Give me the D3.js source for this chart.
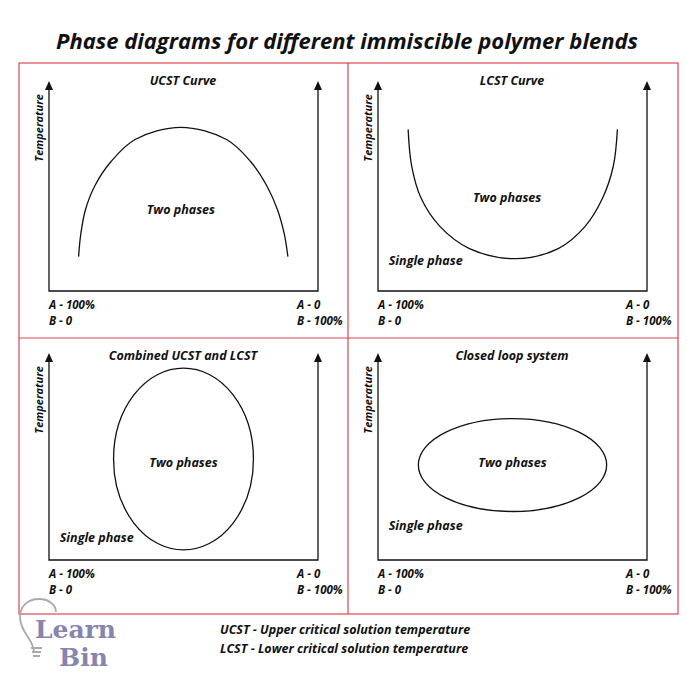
<!DOCTYPE html>
<html><head><meta charset="utf-8">
<script src="https://cdn.jsdelivr.net/npm/d3@7"></script>
<style>body{margin:0;background:#fff}text{font-family:"Open Sans",sans-serif;font-style:italic;font-weight:700;fill:#111}</style>
</head><body><svg id="c" width="700" height="677"></svg>
<script>
const titles = ["UCST Curve","LCST Curve","Combined UCST and LCST","Closed loop system"];
const ucstPoints = [[11,17],[11.8,28],[13.5,40],[17,52],[23,64],[32,75],[49,81],[66,75],[75,64],[81,52],[85,40],[87.5,28],[88.8,17]];
const lcstPoints = [[11.2,80],[12.5,62],[16,46],[23,32],[34,21],[51,16],[67,21],[77,32],[83.5,46],[87.5,62],[89,80]];
const ellipses = [null,null,{cx:50,cy:50,rx:26,ry:45},{cx:50,cy:47,rx:35,ry:23}];
const twoPhaseLabels = [[49,38],[48,44],[50,46],[50,46]];
const singlePhaseLabels = [null,[4,13],[4,9],[4,15]];
const xLeftLabels = ["A - 100%","B - 0"], xRightLabels = ["A - 0","B - 100%"];
const svg = d3.select("#c");
svg.append("text").attr("x",347).attr("y",49).attr("text-anchor","middle").style("font-size","22px").text("Phase diagrams for different immiscible polymer blends");
svg.append("rect").attr("x",19).attr("y",63).attr("width",659).attr("height",551).attr("fill","none").attr("stroke","#d9464f").attr("stroke-width",1.2);
svg.append("line").attr("x1",348).attr("x2",348).attr("y1",63).attr("y2",614).attr("stroke","#d9464f").attr("stroke-width",1.2);
svg.append("line").attr("x1",19).attr("x2",678).attr("y1",338).attr("y2",338).attr("stroke","#d9464f").attr("stroke-width",1.2);
const offs = [[0,0],[329,0],[0,269],[329,269]];
offs.forEach(([ox,oy],i)=>{
  const g = svg.append("g").attr("transform",`translate(${ox},${oy})`);
  const x = d3.scaleLinear().domain([0,100]).range([49,318]);
  const y = d3.scaleLinear().domain([0,100]).range([291,89]);
  g.append("text").attr("x",183).attr("y",i<2?85:91).attr("text-anchor","middle").style("font-size","12.5px").text(titles[i]);
  const top = i<2?y(100)-1:y(100)+2;
  g.append("path").attr("d",`M${x(0)},${top}V${y(0)}H${x(100)}V${top}`).attr("fill","none").attr("stroke","#111").attr("stroke-width",1.3);
  [x(0),x(100)].forEach(ax=>g.append("path").attr("d",`M${ax-4},${top+2}L${ax},${top-7}L${ax+4},${top+2}Z`).attr("fill","#111"));
  g.append("text").attr("transform",`translate(${x(0)-6},${top+6}) rotate(-90)`).attr("text-anchor","end").style("font-size","11px").text("Temperature");
  xLeftLabels.forEach((t,k)=>g.append("text").attr("x",x(0)).attr("y",y(0)+18+k*16).style("font-size","11.5px").text(t));
  xRightLabels.forEach((t,k)=>g.append("text").attr("x",x(100)-21).attr("y",y(0)+18+k*16).style("font-size","11.5px").text(t));
  const line = d3.line().x(d=>x(d[0])).y(d=>y(d[1])).curve(d3.curveCatmullRom);
  if(i===0) g.append("path").attr("d",line(ucstPoints)).attr("fill","none").attr("stroke","#111").attr("stroke-width",1.3);
  if(i===1) g.append("path").attr("d",line(lcstPoints)).attr("fill","none").attr("stroke","#111").attr("stroke-width",1.3);
  const e = ellipses[i];
  if(e) g.append("ellipse").attr("cx",x(e.cx)).attr("cy",y(e.cy)).attr("rx",x(e.rx)-x(0)).attr("ry",y(0)-y(e.ry)).attr("fill","none").attr("stroke","#111").attr("stroke-width",1.3);
  g.append("text").attr("x",x(twoPhaseLabels[i][0])).attr("y",y(twoPhaseLabels[i][1])).attr("text-anchor","middle").style("font-size","12.5px").text("Two phases");
  if(singlePhaseLabels[i]) g.append("text").attr("x",x(singlePhaseLabels[i][0])).attr("y",y(singlePhaseLabels[i][1])).style("font-size","12.5px").text("Single phase");
});
// logo
const lg = svg.append("g");
lg.append("path").attr("d","M34,652 C34,640 20,632 20,617 C20,606 28,599 39,599 C50,599 56,606 56,612").attr("fill","none").attr("stroke","#aaa").attr("stroke-width",1.8);
[648,652,656].forEach((yy,k)=>lg.append("line").attr("x1",31+k).attr("x2",42-k).attr("y1",yy).attr("y2",yy).attr("stroke","#aaa").attr("stroke-width",2));
lg.append("text").attr("x",35).attr("y",638).style("font-size","25px").style("font-style","normal").style("font-family","DejaVu Serif").style("fill","#8784b0").text("Learn");
lg.append("text").attr("x",59).attr("y",666).style("font-size","25px").style("font-style","normal").style("font-family","DejaVu Serif").style("fill","#8784b0").text("Bin");
svg.append("text").attr("x",220).attr("y",634).style("font-size","12.5px").text("UCST - Upper critical solution temperature");
svg.append("text").attr("x",220).attr("y",653).style("font-size","12.5px").text("LCST  - Lower critical solution temperature");
</script></body></html>
